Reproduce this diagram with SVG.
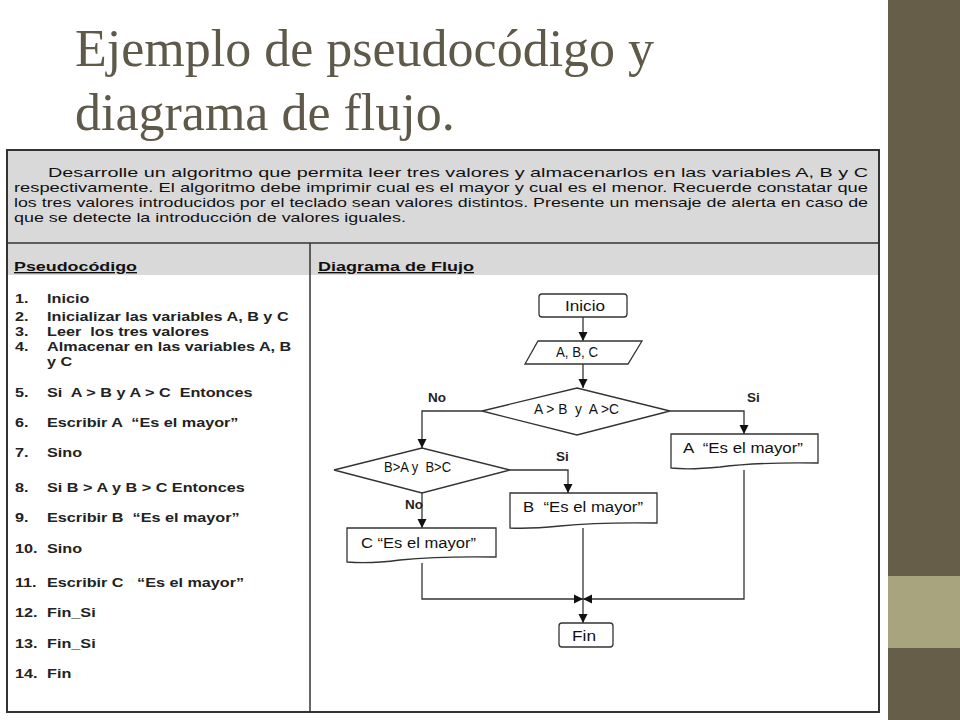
<svg xmlns="http://www.w3.org/2000/svg" width="960" height="720" viewBox="0 0 960 720">
<defs>
<style>
text{white-space:pre}
.t{font-family:"Liberation Sans",Arial,sans-serif;font-size:13.5px;fill:#111}
.b{font-family:"Liberation Sans",Arial,sans-serif;font-size:13.5px;font-weight:bold;fill:#222}
.f{font-family:"Liberation Sans",Arial,sans-serif;font-size:14px;fill:#111}
.s{fill:#fff;stroke:#333;stroke-width:1.3}
.c{fill:none;stroke:#333;stroke-width:1.3}
</style>
<marker id="a" viewBox="0 0 10 10" refX="10" refY="5" markerWidth="7" markerHeight="7" orient="auto"><path d="M0,0L10,5L0,10z" fill="#111"/></marker>
</defs>
<rect width="960" height="720" fill="#fff"/>
<rect x="888" y="0" width="72" height="720" fill="#665e48"/>
<rect x="888" y="576" width="72" height="72" fill="#a8a57e"/>
<text x="75" y="66" font-family="'Liberation Serif',serif" font-size="52" fill="#5e5948">Ejemplo de pseudocódigo y</text>
<text x="75" y="130" font-family="'Liberation Serif',serif" font-size="52" fill="#5e5948">diagrama de flujo.</text>
<g id="table">
<rect x="7" y="150" width="872" height="125" fill="#d9d9d9"/>
<rect x="7" y="150" width="872" height="562" fill="none" stroke="#333" stroke-width="2"/>
<line x1="7" y1="243" x2="879" y2="243" stroke="#333" stroke-width="1.5"/>
<line x1="310" y1="243" x2="310" y2="712" stroke="#333" stroke-width="1.5"/>
<text class="t" x="48" y="177" textLength="820" lengthAdjust="spacingAndGlyphs">Desarrolle un algoritmo que permita leer tres valores y almacenarlos en las variables A, B y C</text>
<text class="t" x="14" y="192" textLength="854" lengthAdjust="spacingAndGlyphs">respectivamente. El algoritmo debe imprimir cual es el mayor y cual es el menor. Recuerde constatar que</text>
<text class="t" x="14" y="207" textLength="854" lengthAdjust="spacingAndGlyphs">los tres valores introducidos por el teclado sean valores distintos. Presente un mensaje de alerta en caso de</text>
<text class="t" x="14" y="222" textLength="392" lengthAdjust="spacingAndGlyphs">que se detecte la introducción de valores iguales.</text>
<text class="t" x="14" y="271" font-weight="bold" text-decoration="underline" textLength="123" lengthAdjust="spacingAndGlyphs">Pseudocódigo</text>
<text class="t" x="318" y="271" font-weight="bold" text-decoration="underline" textLength="156" lengthAdjust="spacingAndGlyphs">Diagrama de Flujo</text>
</g>
<g id="pseudo" transform="scale(1.2,1)">
<text class="b" x="12.5" y="303">1.</text><text class="b" x="39.2" y="303">Inicio</text>
<text class="b" x="12.5" y="321">2.</text><text class="b" x="39.2" y="321">Inicializar las variables A, B y C</text>
<text class="b" x="12.5" y="336">3.</text><text class="b" x="39.2" y="336">Leer  los tres valores</text>
<text class="b" x="12.5" y="351">4.</text><text class="b" x="39.2" y="351">Almacenar en las variables A, B</text>
<text class="b" x="39.2" y="366">y C</text>
<text class="b" x="12.5" y="397">5.</text><text class="b" x="39.2" y="397">Si  A &gt; B y A &gt; C  Entonces</text>
<text class="b" x="12.5" y="427">6.</text><text class="b" x="39.2" y="427">Escribir A  “Es el mayor”</text>
<text class="b" x="12.5" y="457">7.</text><text class="b" x="39.2" y="457">Sino</text>
<text class="b" x="12.5" y="492">8.</text><text class="b" x="39.2" y="492">Si B &gt; A y B &gt; C Entonces</text>
<text class="b" x="12.5" y="522">9.</text><text class="b" x="39.2" y="522">Escribir B  “Es el mayor”</text>
<text class="b" x="12.5" y="553">10.</text><text class="b" x="39.2" y="553">Sino</text>
<text class="b" x="12.5" y="587">11.</text><text class="b" x="39.2" y="587">Escribir C   “Es el mayor”</text>
<text class="b" x="12.5" y="617">12.</text><text class="b" x="39.2" y="617">Fin_Si</text>
<text class="b" x="12.5" y="648">13.</text><text class="b" x="39.2" y="648">Fin_Si</text>
<text class="b" x="12.5" y="678">14.</text><text class="b" x="39.2" y="678">Fin</text>
</g>
<g id="connectors">
<path class="c" d="M583,317V341" marker-end="url(#a)"/>
<path class="c" d="M583,364V388" marker-end="url(#a)"/>
<path class="c" d="M670,411H744V434" marker-end="url(#a)"/>
<path class="c" d="M482,411H422V448" marker-end="url(#a)"/>
<path class="c" d="M510,470H568V493" marker-end="url(#a)"/>
<path class="c" d="M422,493V528" marker-end="url(#a)"/>
<path class="c" d="M422,563V599H583" marker-end="url(#a)"/>
<path class="c" d="M744,470V599H583" marker-end="url(#a)"/>
<path class="c" d="M583,528V623" marker-end="url(#a)"/>
</g>
<g id="inicio"><rect class="s" x="539" y="294" width="88" height="23" rx="3"/><text class="f" x="565" y="311" textLength="40" lengthAdjust="spacingAndGlyphs">Inicio</text></g>
<g id="input"><polygon class="s" points="538,341 642,341 628,364 525,364"/><text class="f" x="556" y="357" font-size="12" textLength="42" lengthAdjust="spacingAndGlyphs">A, B, C</text></g>
<g id="d1"><polygon class="s" points="482,411 577,388 670,411 577,435"/><text class="f" x="534" y="414" font-size="12" textLength="85" lengthAdjust="spacingAndGlyphs">A &gt; B  y  A &gt;C</text>
<text class="b" x="428" y="402" font-size="11">No</text><text class="b" x="747" y="402" font-size="11">Si</text></g>
<g id="aMayor"><path class="s" d="M671,434H818V463Q760,462 720,467Q690,470 671,468Z"/><text class="f" x="683" y="453" textLength="120" lengthAdjust="spacingAndGlyphs">A  “Es el mayor”</text></g>
<g id="d2"><polygon class="s" points="334,470 422,448 510,470 422,493"/><text class="f" x="384" y="472" font-size="12" textLength="67" lengthAdjust="spacingAndGlyphs">B&gt;A y  B&gt;C</text>
<text class="b" x="556" y="461" font-size="11">Si</text><text class="b" x="405" y="509" font-size="11">No</text></g>
<g id="bMayor"><path class="s" d="M510,493H657V523Q600,522 560,526Q530,529 510,528Z"/><text class="f" x="523" y="512" textLength="120" lengthAdjust="spacingAndGlyphs">B  “Es el mayor”</text></g>
<g id="cMayor"><path class="s" d="M347,528H496V557Q440,556 400,560Q370,564 347,562Z"/><text class="f" x="361" y="548" textLength="115" lengthAdjust="spacingAndGlyphs">C “Es el mayor”</text></g>
<g id="fin"><rect class="s" x="559" y="623" width="54" height="24" rx="3"/><text class="f" x="572" y="641" textLength="24" lengthAdjust="spacingAndGlyphs">Fin</text></g>
</svg>
